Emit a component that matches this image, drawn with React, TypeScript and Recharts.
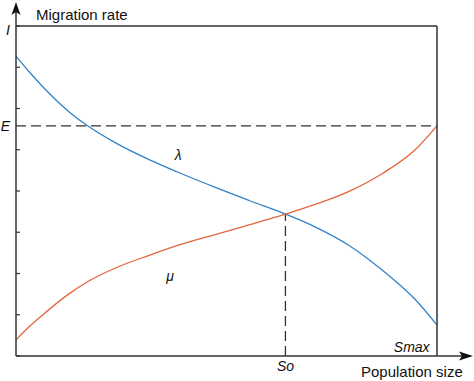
import React from 'react';
import { LineChart, Line, XAxis, YAxis, ReferenceLine, ReferenceDot } from 'recharts';

// population size (0 .. Smax), sampled where the curves were read
const sizes = [0, 0.25, 0.5, 1, 1.36, 1.9, 2.53, 3.07, 3.8, 4.43, 5.12, 5.7, 6.33, 6.97, 7.6, 8];
// immigration rate λ
const lambdaRate = [7.27, 6.89, 6.54, 5.93, 5.58, 5.16, 4.76, 4.46, 4.08, 3.77, 3.44, 3.12, 2.68, 2.07, 1.35, 0.75];
// emigration rate μ
const muRate = [0.39, 0.71, 0.99, 1.5, 1.8, 2.14, 2.44, 2.68, 2.95, 3.18, 3.44, 3.68, 3.99, 4.43, 5.02, 5.58];

const xTicks = [0, 1, 2, 3, 4, 5, 6, 7, 8];
const yTicks = [0, 1, 2, 3, 4, 5, 6, 7, 8];

const levelE = 5.58;
const levelI = 8;
const sizeSo = 5.12;
const rateSo = 3.44;
const sizeSmax = 7.52;

const data = sizes.map((s, i) => ({ s, lambda: lambdaRate[i], mu: muRate[i] }));

const AXIS = '#333';
const FONT = '"Liberation Sans", Arial, sans-serif';
const italic = { fontFamily: FONT, fontStyle: 'italic', fontSize: 14, fill: '#111' };

const LeftTick = (props: any) => {
  if (props.payload.value !== levelI) return <g />;
  return (
    <text x={8} y={props.y + 9} textAnchor="middle" style={italic}>
      I
    </text>
  );
};

export default function App() {
  return (
    <div style={{ position: 'absolute', left: 0, top: 0, width: 474, height: 381, background: '#fff' }}>
      <LineChart width={474} height={381} data={data} margin={{ top: 0, right: 0, bottom: 0, left: 0 }}>
        <XAxis
          xAxisId="b"
          dataKey="s"
          type="number"
          domain={[0, 8]}
          ticks={xTicks}
          tick={false}
          tickSize={-4}
          height={25}
          axisLine={{ stroke: AXIS, strokeWidth: 1.5 }}
          tickLine={{ stroke: AXIS, strokeWidth: 1.2 }}
        />
        <XAxis
          xAxisId="t"
          orientation="top"
          dataKey="s"
          type="number"
          domain={[0, 8]}
          ticks={xTicks}
          tick={false}
          tickSize={-4}
          height={26}
          axisLine={{ stroke: AXIS, strokeWidth: 1.5 }}
          tickLine={{ stroke: AXIS, strokeWidth: 1.2 }}
        />
        <YAxis
          yAxisId="l"
          type="number"
          domain={[0, 8]}
          ticks={yTicks}
          tick={LeftTick}
          tickSize={-4}
          width={16}
          axisLine={{ stroke: AXIS, strokeWidth: 1.5 }}
          tickLine={{ stroke: AXIS, strokeWidth: 1.2 }}
        />
        <YAxis
          yAxisId="r"
          orientation="right"
          type="number"
          domain={[0, 8]}
          ticks={yTicks}
          tick={false}
          tickSize={-4}
          width={37}
          axisLine={{ stroke: AXIS, strokeWidth: 1.5 }}
          tickLine={{ stroke: AXIS, strokeWidth: 1.2 }}
        />
        <ReferenceLine
          xAxisId="b"
          yAxisId="l"
          y={levelE}
          stroke={AXIS}
          strokeWidth={1.3}
          strokeDasharray="10 5"
          label={{ value: 'E', position: 'left', offset: 6, style: italic }}
        />
        <ReferenceLine
          xAxisId="b"
          yAxisId="l"
          segment={[{ x: sizeSo, y: 0 }, { x: sizeSo, y: rateSo }]}
          stroke={AXIS}
          strokeWidth={1.3}
          strokeDasharray="10 5"
        />
        <Line
          xAxisId="b"
          yAxisId="l"
          type="monotone"
          dataKey="lambda"
          stroke="#3182c8"
          strokeWidth={1.3}
          dot={false}
          isAnimationActive={false}
        />
        <Line
          xAxisId="b"
          yAxisId="l"
          type="monotone"
          dataKey="mu"
          stroke="#e2663c"
          strokeWidth={1.3}
          dot={false}
          isAnimationActive={false}
        />
        <ReferenceDot xAxisId="b" yAxisId="l" x={sizeSo} y={0} r={0} stroke="none" fill="none"
          label={{ value: 'So', position: 'bottom', offset: 5, style: italic }} />
        <ReferenceDot xAxisId="b" yAxisId="l" x={sizeSmax} y={0} r={0} stroke="none" fill="none"
          label={{ value: 'Smax', position: 'top', offset: 4, style: italic }} />
        <ReferenceDot xAxisId="b" yAxisId="l" x={3.08} y={4.87} r={0} stroke="none" fill="none"
          label={{ value: 'λ', position: 'center', style: italic }} />
        <ReferenceDot xAxisId="b" yAxisId="l" x={2.93} y={1.94} r={0} stroke="none" fill="none"
          label={{ value: 'μ', position: 'center', style: italic }} />
      </LineChart>
      <svg width={474} height={381} style={{ position: 'absolute', left: 0, top: 0, pointerEvents: 'none' }}>
        <line x1={16} y1={26} x2={16} y2={10} stroke={AXIS} strokeWidth={1.5} />
        <polygon points="16,2 11.5,15 16,12 20.5,15" fill="#111" />
        <line x1={437} y1={356} x2={464} y2={356} stroke={AXIS} strokeWidth={1.5} />
        <polygon points="473,356 459,351.5 462,356 459,360.5" fill="#111" />
        <text x={36} y={20} style={{ fontFamily: FONT, fontSize: 15, fill: '#111' }}>Migration rate</text>
        <text x={361} y={377} style={{ fontFamily: FONT, fontSize: 15, fill: '#111' }}>Population size</text>
      </svg>
    </div>
  );
}
